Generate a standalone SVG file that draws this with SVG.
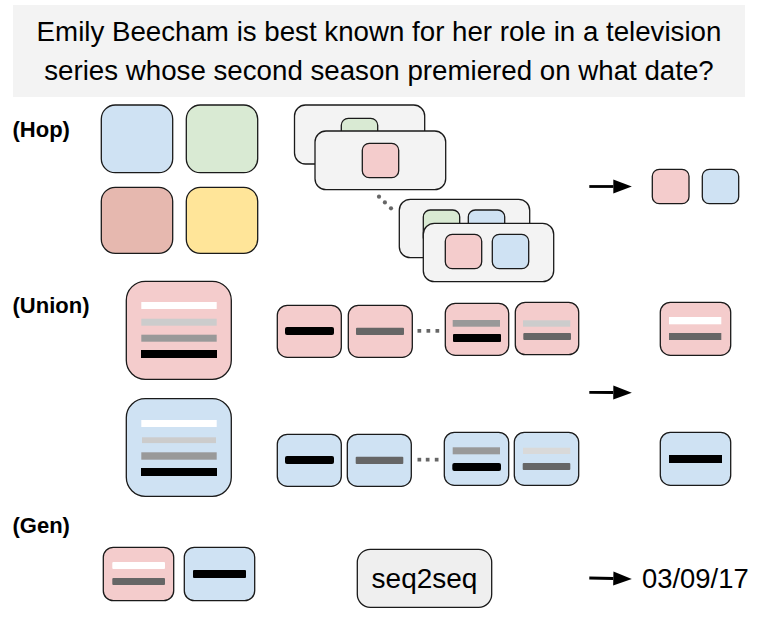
<svg xmlns="http://www.w3.org/2000/svg" width="765" height="634" viewBox="0 0 765 634">
<style>
text{font-family:"Liberation Sans",Arial,sans-serif;fill:#000}
.q{font-size:27.7px;text-anchor:middle}
.l{font-size:22px;font-weight:bold}
.big{font-size:27.4px}
.seq{font-size:28px;text-anchor:middle}
rect.n{stroke:#1a1a1a;stroke-width:1.3}
.bl{fill:#cfe2f3}.gr{fill:#d9ead3}.rd{fill:#e6b8af}.ye{fill:#ffe599}.pk{fill:#f4cccc}.cd{fill:#f3f3f3}
.w{fill:#fff}.c{fill:#ccc}.m{fill:#999}.d{fill:#666}.k{fill:#000}.x{fill:#d9d9d9}
.dot{fill:#666}
.arrow{stroke:#000;stroke-width:2.8;fill:none;marker-end:url(#head)}
</style>
<defs>
<marker id="head" markerUnits="userSpaceOnUse" markerWidth="19" markerHeight="15" refX="0" refY="7" orient="auto" overflow="visible"><path d="M0 0L18.5 7L0 14Z" fill="#000"/></marker>
</defs>
<rect width="765" height="634" fill="#fff"/>
<g id="question">
<rect x="13" y="5" width="732" height="92" fill="#f3f3f3"/>
<text class="q" x="379" y="41">Emily Beecham is best known for her role in a television</text>
<text class="q" x="379" y="80">series whose second season premiered on what date?</text>
</g>
<g id="labels">
<text class="l" x="12.5" y="136.5">(Hop)</text>
<text class="l" x="12.5" y="312.5">(Union)</text>
<text class="l" x="12.5" y="532.5">(Gen)</text>
</g>
<g id="hop-docs">
<rect class="n bl" x="101.3" y="105" width="71.4" height="67.7" rx="14"/>
<rect class="n gr" x="186.3" y="105" width="71.4" height="67.7" rx="14"/>
<rect class="n rd" x="101.3" y="187.3" width="71.4" height="66" rx="14"/>
<rect class="n ye" x="186.3" y="187.3" width="71.4" height="66" rx="14"/>
</g>
<g id="hop-card-1">
<rect class="n cd" x="294.5" y="105" width="130.2" height="59" rx="11"/>
<rect class="n gr" x="341.3" y="118.3" width="36.4" height="34.4" rx="7"/>
</g>
<g id="hop-card-2">
<rect class="n cd" x="315" y="131" width="130.7" height="58.7" rx="11"/>
<rect class="n pk" x="362.3" y="143.3" width="36.4" height="34.4" rx="7"/>
</g>
<g id="hop-dots" class="dot">
<circle cx="379" cy="196.7" r="2.1"/><circle cx="384.9" cy="202.4" r="2.1"/><circle cx="391" cy="208.3" r="2.1"/>
</g>
<g id="hop-card-3">
<rect class="n cd" x="399.3" y="199.3" width="130.4" height="58.4" rx="11"/>
<rect class="n gr" x="423.3" y="210" width="36.4" height="34.4" rx="7"/>
<rect class="n bl" x="468.3" y="210" width="36.4" height="34.4" rx="7"/>
</g>
<g id="hop-card-4">
<rect class="n cd" x="423.3" y="223.3" width="130.4" height="58.4" rx="11"/>
<rect class="n pk" x="445.3" y="234.3" width="36.4" height="34.4" rx="7"/>
<rect class="n bl" x="492.3" y="234.3" width="36.4" height="34.4" rx="7"/>
</g>
<g id="hop-result">
<rect class="n pk" x="652.3" y="169.3" width="36.7" height="34.4" rx="7"/>
<rect class="n bl" x="702.3" y="169.3" width="36.4" height="34.4" rx="7"/>
</g>
<g id="union-pink">
<rect class="n pk" x="126.3" y="281.3" width="105" height="98" rx="19"/>
<rect class="w" x="141.3" y="302" width="75.4" height="7"/>
<rect class="c" x="141.3" y="318.7" width="75.4" height="7"/>
<rect class="m" x="141.3" y="334.7" width="75.4" height="7"/>
<rect class="k" x="141" y="350" width="76" height="8"/>
</g>
<g id="union-blue">
<rect class="n bl" x="126.3" y="398.7" width="105" height="97.6" rx="19"/>
<rect class="w" x="141.3" y="420" width="75.4" height="7"/>
<rect class="c" x="142" y="437.3" width="74" height="5.8"/>
<rect class="m" x="141.3" y="452.3" width="75.4" height="7.4"/>
<rect class="k" x="141" y="468" width="76" height="8"/>
</g>
<g id="pink-row">
<g id="pink-1"><rect class="n pk" x="277.3" y="305.3" width="64" height="52" rx="10"/><rect class="k" x="285" y="327" width="49" height="8" rx="2"/></g>
<g id="pink-2"><rect class="n pk" x="348.3" y="305.3" width="64" height="52" rx="10"/><rect class="d" x="356" y="327.7" width="48" height="7.3" rx="1"/></g>
<g class="dot"><rect x="417.5" y="329" width="3.7" height="3.7"/><rect x="426.5" y="329" width="3.7" height="3.7"/><rect x="435.5" y="329" width="3.7" height="3.7"/></g>
<g id="pink-3"><rect class="n pk" x="445.3" y="303.3" width="63.4" height="52" rx="10"/><rect class="m" x="452.7" y="320" width="47.3" height="6.7"/><rect class="k" x="453" y="334" width="48" height="8" rx="1"/></g>
<g id="pink-4"><rect class="n pk" x="515.3" y="302.3" width="63.4" height="52.4" rx="10"/><rect class="c" x="523" y="320.3" width="47.3" height="6.4"/><rect class="d" x="523.3" y="333" width="47.7" height="7" rx="1"/></g>
</g>
<g id="blue-row">
<g id="blue-1"><rect class="n bl" x="277.3" y="434.3" width="64" height="52" rx="10"/><rect class="k" x="285" y="456" width="49" height="8" rx="2"/></g>
<g id="blue-2"><rect class="n bl" x="347.3" y="434.3" width="64" height="52" rx="10"/><rect class="d" x="355.7" y="456.7" width="47.6" height="7.3" rx="1"/></g>
<g class="dot"><rect x="417.5" y="457.8" width="3.7" height="3.7"/><rect x="425.8" y="457.8" width="3.7" height="3.7"/><rect x="434.8" y="457.8" width="3.7" height="3.7"/></g>
<g id="blue-3"><rect class="n bl" x="444.3" y="432.3" width="64.4" height="53" rx="10"/><rect class="m" x="452.7" y="447.3" width="47.3" height="7"/><rect class="k" x="452.3" y="463" width="48.7" height="8" rx="2"/></g>
<g id="blue-4"><rect class="n bl" x="514.3" y="432.3" width="64.4" height="53" rx="10"/><rect class="x" x="523" y="447.7" width="47.3" height="6.3"/><rect class="d" x="522.7" y="463" width="47.6" height="7" rx="1"/></g>
</g>
<g id="union-result-pink"><rect class="n pk" x="660.3" y="302.3" width="70.4" height="53" rx="10"/><rect class="w" x="669" y="317" width="52.3" height="7.3"/><rect class="d" x="669" y="333" width="52.3" height="7"/></g>
<g id="union-result-blue"><rect class="n bl" x="660.3" y="432.3" width="70.4" height="53" rx="10"/><rect class="k" x="669" y="455" width="53" height="8"/></g>
<g id="gen-pink"><rect class="n pk" x="103.3" y="547.3" width="70.4" height="53.4" rx="10"/><rect class="w" x="112.3" y="562" width="52.7" height="7" rx="1"/><rect class="d" x="112.3" y="578" width="52.7" height="7" rx="1"/></g>
<g id="gen-blue"><rect class="n bl" x="184.3" y="547.3" width="70.4" height="53.4" rx="10"/><rect class="k" x="193" y="570" width="53" height="8" rx="1"/></g>
<g id="seq2seq"><rect class="n" fill="#efefef" x="357.3" y="549.3" width="134.4" height="58" rx="13"/><text class="seq" x="424.5" y="588">seq2seq</text></g>
<text id="answer" class="big" x="642" y="587.5">03/09/17</text>
<g id="connectors">
<line class="arrow" x1="589.3" y1="186.5" x2="613.3" y2="186.5"/>
<line class="arrow" x1="589.3" y1="392.3" x2="613.3" y2="392.5"/>
<line class="arrow" x1="589.3" y1="578" x2="613.3" y2="578.5"/>
</g>
</svg>
